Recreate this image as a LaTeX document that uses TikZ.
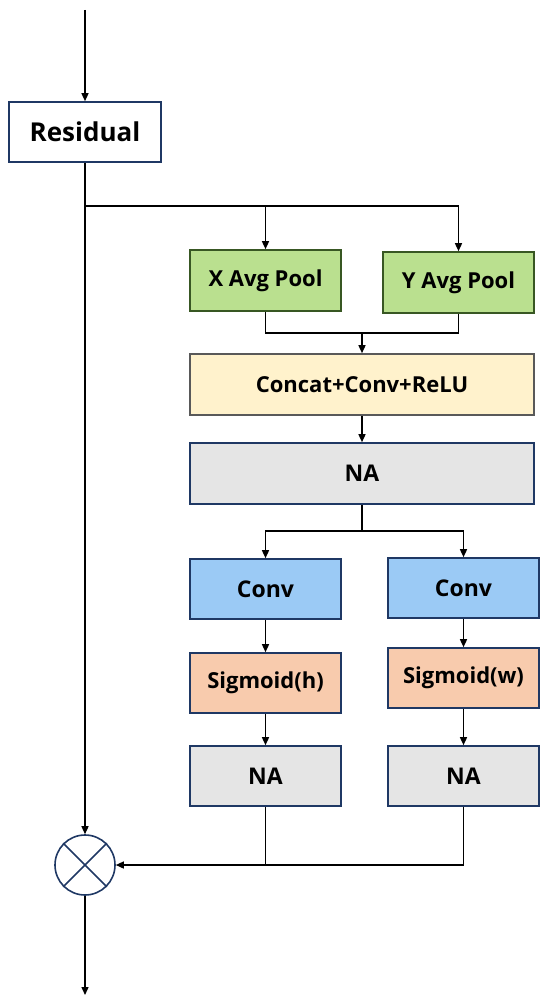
\documentclass[tikz,border=0pt]{standalone}
\usepackage{fontspec}
\setmainfont{Open Sans}
\usetikzlibrary{arrows.meta}
\definecolor{navy}{RGB}{31,56,100}
\definecolor{poolgreen}{RGB}{186,224,143}
\definecolor{poolline}{RGB}{56,87,35}
\definecolor{concatfill}{RGB}{255,242,204}
\definecolor{concatline}{RGB}{89,89,89}
\definecolor{nagray}{RGB}{229,229,229}
\definecolor{convblue}{RGB}{155,202,245}
\definecolor{sigorange}{RGB}{248,203,173}
\begin{document}
\begin{tikzpicture}[
	x=1pt, y=-1pt,
	line width=1.4pt,
	flow/.style={draw, -{Triangle[length=8pt,width=7pt]}},
	box/.style={rectangle, draw=navy, line width=1.6pt, minimum width=151pt, minimum height=60pt, inner sep=2pt, font=\bfseries\fontsize{22}{26}\selectfont},
	wide/.style={minimum width=344pt, minimum height=61pt},
	pool/.style={box, fill=poolgreen, draw=poolline, minimum height=61pt}
]
\useasboundingbox (0,0) rectangle (550,1003);
\node[box, fill=white, minimum width=152pt, font=\bfseries\fontsize{26}{31}\selectfont] (residual) at (85,132) {Residual};
\node[pool] (xpool) at (265.5,280.5) {X Avg Pool};
\node[pool] (ypool) at (458.5,282.5) {Y Avg Pool};
\node[box, wide, fill=concatfill, draw=concatline] (concat) at (362,384.5) {Concat+Conv+ReLU};
\node[box, wide, fill=nagray, font=\bfseries\fontsize{23}{27}\selectfont] (na) at (362,473.5) {NA};
\node[box, fill=convblue, font=\bfseries\fontsize{23}{27}\selectfont] (convh) at (265.5,589) {Conv};
\node[box, fill=convblue, font=\bfseries\fontsize{23}{27}\selectfont] (convw) at (463.5,588) {Conv};
\node[box, fill=sigorange] (sigh) at (265.5,683) {Sigmoid(h)};
\node[box, fill=sigorange] (sigw) at (463.5,678) {Sigmoid(w)};
\node[box, fill=nagray, font=\bfseries\fontsize{23}{27}\selectfont] (nah) at (265.5,776) {NA};
\node[box, fill=nagray, font=\bfseries\fontsize{23}{27}\selectfont] (naw) at (463.5,776) {NA};
\node[circle, draw=navy, line width=1.6pt, minimum size=60pt, inner sep=0pt] (mul) at (85,865) {};
\draw[navy, line width=1.6pt] (mul.north west) -- (mul.south east) (mul.north east) -- (mul.south west);
% branch points
\coordinate (in) at (85,10);
\coordinate (out) at (85,995);
\coordinate (split) at (85,206);
\coordinate (join) at (362,333);
\coordinate (fork) at (362,531);
% connectors
\draw[flow] (in) -- (residual);
\draw[flow] (residual) -- (mul);
\draw[flow] (split) -| (ypool);
\draw[flow] (split -| xpool) -- (xpool);
\draw (xpool) |- (join);
\draw (ypool) |- (join);
\draw[flow] (join) -- (concat);
\draw[flow] (concat) -- (na);
\draw (na) -- (fork);
\draw[flow] (fork) -| (convh);
\draw[flow] (fork) -| (convw);
\draw[flow] (convh) -- (sigh);
\draw[flow] (convw) -- (sigw);
\draw[flow] (sigh) -- (nah);
\draw[flow] (sigw) -- (naw);
\draw (naw) |- (nah |- mul);
\draw[flow] (nah) |- (mul);
\draw[flow] (mul) -- (out);
\end{tikzpicture}
\end{document}
